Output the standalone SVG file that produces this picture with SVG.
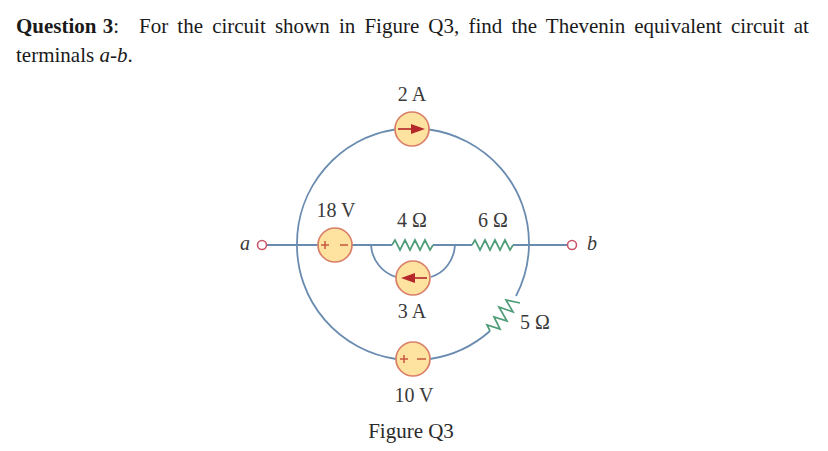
<svg xmlns="http://www.w3.org/2000/svg" width="828" height="451" viewBox="0 0 828 451">
<style>
text{font-family:"Liberation Serif","Times New Roman",serif}
.q{font-size:21px;fill:#1a1a1a}
.l{font-size:20px;fill:#3a3a3a;text-anchor:middle}
.w{fill:none;stroke:#6a8bb0;stroke-width:1.8}
.r{fill:none;stroke:#4f9d78;stroke-width:1.7;stroke-linejoin:miter}
.s{fill:#fde2a0;stroke:#d97f68;stroke-width:1.7}
.t{fill:#fff;stroke:#c9566a;stroke-width:1.6}
.p{fill:none;stroke:#c8583f;stroke-width:1.5}
.a{stroke:#b5272a;stroke-width:1.6;fill:none}
.h{fill:#b5272a}
</style>
<rect width="828" height="451" fill="#fff"/>
<text class="q" x="16" y="33"><tspan font-weight="bold" word-spacing="1">Question 3</tspan>:</text>
<text class="q" x="139" y="33" word-spacing="3.9">For the circuit shown in Figure Q3, find the Thevenin equivalent circuit at</text>
<text class="q" x="16" y="62">terminals <tspan font-style="italic">a-b</tspan>.</text>
<g id="connectors">
<path class="w" d="M395 129.500A115.500 115.500 0 0 0 297 244A116 115 0 0 0 396 359"/>
<path class="w" d="M429 129.500A116 115 0 0 1 529 244A116 115 0 0 1 516 296"/>
<path class="w" d="M490 331A116 115 0 0 1 430 359"/>
<path class="w" d="M267 245H318M352 245H392M433 245H472M513 245H567"/>
<path class="w" d="M371 245C372 261 383 273 396 277"/>
<path class="w" d="M455 245C454 261 444 273 431 277"/>
</g>
<g id="r4"><path class="r" d="M392 245L395 240L400 250L405 240L410 250L415 240L420 250L425 240L430 250L433 245"/><text class="l" x="412" y="227">4 Ω</text></g>
<g id="r6"><path class="r" d="M472 245L475 240L480 250L485 240L490 250L495 240L500 250L505 240L510 250L513 245"/><text class="l" x="493" y="227">6 Ω</text></g>
<g id="r5"><path class="r" d="M490 331L487 325L500 329L494 317L507 321L499 307L513 312L506 300L520 303"/><text class="l" x="535" y="329">5 Ω</text></g>
<g id="i2"><circle class="s" cx="412" cy="129" r="17"/><path class="a" d="M398 129H420"/><path class="h" d="M425 129L411 124V134Z"/><text class="l" x="412" y="101">2 A</text></g>
<g id="i3"><circle class="s" cx="413" cy="278" r="17"/><path class="a" d="M406 278H427"/><path class="h" d="M401 278L415 273V283Z"/><text class="l" x="412" y="318">3 A</text></g>
<g id="v18"><circle class="s" cx="335" cy="245" r="17"/><path class="p" d="M321 245H329M325 241V249M340 245H348"/><text class="l" x="336" y="217">18 V</text></g>
<g id="v10"><circle class="s" cx="413" cy="359" r="17"/><path class="p" d="M400 359H408M404 355V363M417 359H426"/><text class="l" x="414" y="402">10 V</text></g>
<g id="a"><circle class="t" cx="262" cy="245" r="4.500"/><text class="l" x="245" y="250" font-style="italic">a</text></g>
<g id="b"><circle class="t" cx="572" cy="245" r="4.500"/><text class="l" x="592" y="250" font-style="italic">b</text></g>
<text x="411" y="438" text-anchor="middle" font-size="21px" fill="#2a2a2a">Figure Q3</text>
</svg>
